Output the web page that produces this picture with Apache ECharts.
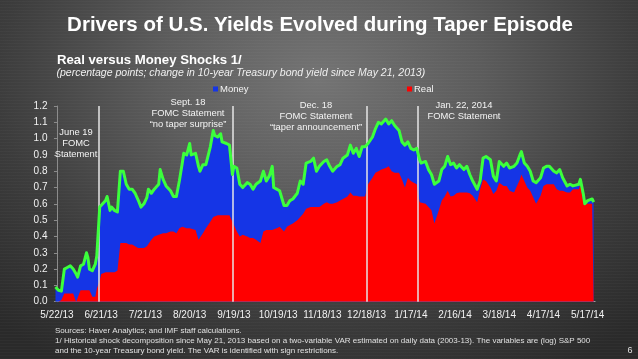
<!DOCTYPE html>
<html><head><meta charset="utf-8">
<script src="https://cdn.jsdelivr.net/npm/echarts@6/dist/echarts.min.js"></script>
<style>
html,body{margin:0;padding:0;width:638px;height:359px;overflow:hidden;background:#2a2a2a;}
#bg{position:absolute;left:0;top:0;width:638px;height:359px;
background:
 repeating-linear-gradient(0deg, rgba(255,255,255,0.025) 0px, rgba(255,255,255,0.025) 1px, rgba(0,0,0,0) 1px, rgba(0,0,0,0) 3px),
 radial-gradient(ellipse 72% 95% at 50% 22%, #747474 0%, #5c5c5c 35%, #3c3c3c 70%, #2a2a2a 100%);}
#chart{position:absolute;left:0;top:0;width:638px;height:359px;}
</style></head><body><div id="bg"></div><div id="chart"></div>
<script>
// days since 5/22/2013
const days = [-1,1,3,5,7,9,11,13,14,16,
18,20,21,22,24,26,27,29,30,33,
34,36,37,39,41,43,45,47,49,51,
53,55,57,59,61,62,64,66,69,70,
72,74,77,79,81,83,85,86,88,90,
91,94,96,97,99,101,104,106,107,109,
111,112,115,117,118,119,120,122,124,126,
129,131,133,135,138,140,142,144,146,147,
149,151,154,156,158,160,163,165,167,169,
172,174,176,178,181,183,185,187,190,192,
194,197,199,201,203,205,207,209,211,214,
216,218,220,223,225,227,229,232,234,236,
238,240,242,244,246,247,250,252,254,256,
259,261,263,265,267,269,271,273,276,278,
280,282,285,287,289,291,294,296,298,300,
303,305,307,310,312,314,315,317,319,321,
323,325,328,330,332,334,337,339,341,343,
346,348,350,354,355,357,358,360,363,364];

const totalValues = [0.09,0.07,0.065,0.20,0.21,0.22,0.20,0.17,0.15,0.22,
0.23,0.30,0.27,0.20,0.19,0.23,0.28,0.58,0.59,0.62,
0.645,0.56,0.58,0.56,0.55,0.80,0.80,0.72,0.69,0.69,
0.665,0.625,0.58,0.60,0.64,0.69,0.665,0.69,0.72,0.81,
0.75,0.71,0.68,0.645,0.645,0.74,0.85,0.91,0.90,0.97,
0.90,0.91,0.83,0.80,0.84,0.84,0.95,1.05,1.02,1.01,
1.03,0.98,0.97,0.96,0.95,0.78,0.83,0.82,0.72,0.70,
0.73,0.72,0.69,0.72,0.74,0.80,0.74,0.77,0.83,0.70,
0.69,0.68,0.59,0.59,0.62,0.63,0.665,0.74,0.72,0.85,
0.86,0.88,0.80,0.83,0.86,0.87,0.83,0.80,0.83,0.84,
0.88,0.90,0.96,0.91,0.94,0.89,0.95,0.95,0.97,1.01,
1.06,1.10,1.09,1.12,1.09,1.11,1.08,1.05,0.98,0.96,
0.98,0.94,0.93,0.94,0.87,0.85,0.86,0.81,0.78,0.72,
0.74,0.81,0.83,0.89,0.84,0.85,0.82,0.84,0.81,0.83,
0.78,0.74,0.69,0.74,0.88,0.89,0.87,0.77,0.74,0.86,
0.83,0.85,0.82,0.83,0.85,0.90,0.92,0.85,0.83,0.80,
0.74,0.73,0.76,0.82,0.83,0.83,0.80,0.79,0.81,0.76,
0.71,0.72,0.71,0.72,0.75,0.66,0.60,0.62,0.63,0.61];

const realValues = [0.00,0.00,0.01,0.05,0.05,0.05,0.05,0.00,0.00,0.07,
0.07,0.07,0.07,0.07,0.03,0.03,0.08,0.13,0.17,0.18,
0.18,0.18,0.18,0.18,0.19,0.36,0.36,0.36,0.35,0.35,
0.34,0.33,0.33,0.33,0.34,0.35,0.38,0.40,0.41,0.42,
0.42,0.42,0.43,0.43,0.42,0.45,0.46,0.46,0.45,0.45,
0.45,0.44,0.38,0.38,0.42,0.45,0.49,0.52,0.53,0.53,
0.53,0.53,0.53,0.53,0.53,0.49,0.47,0.43,0.40,0.41,
0.40,0.39,0.39,0.38,0.36,0.43,0.44,0.44,0.44,0.44,
0.45,0.46,0.43,0.46,0.47,0.48,0.50,0.52,0.54,0.57,
0.58,0.58,0.58,0.58,0.60,0.61,0.60,0.60,0.61,0.62,
0.63,0.645,0.67,0.65,0.65,0.645,0.645,0.645,0.72,0.76,
0.79,0.80,0.81,0.82,0.83,0.80,0.79,0.79,0.75,0.70,
0.76,0.74,0.73,0.72,0.61,0.61,0.60,0.58,0.56,0.48,
0.56,0.62,0.645,0.68,0.645,0.65,0.665,0.67,0.67,0.67,
0.665,0.65,0.61,0.69,0.75,0.74,0.70,0.66,0.68,0.73,
0.71,0.71,0.68,0.67,0.71,0.75,0.78,0.74,0.70,0.68,
0.64,0.60,0.65,0.71,0.72,0.72,0.72,0.69,0.68,0.68,
0.67,0.67,0.69,0.69,0.72,0.61,0.60,0.60,0.60,0.60];

const moneyValues = [0.09,0.07,0.055,0.15,0.16,0.17,0.15,0.17,0.15,0.15,
0.16,0.23,0.20,0.13,0.16,0.20,0.20,0.45,0.42,0.44,
0.465,0.38,0.40,0.38,0.36,0.44,0.44,0.36,0.34,0.34,
0.325,0.295,0.25,0.27,0.30,0.34,0.285,0.29,0.31,0.39,
0.33,0.29,0.25,0.215,0.225,0.29,0.39,0.45,0.45,0.52,
0.45,0.47,0.45,0.42,0.42,0.39,0.46,0.53,0.49,0.48,
0.50,0.45,0.44,0.43,0.42,0.29,0.36,0.39,0.32,0.29,
0.33,0.33,0.30,0.34,0.38,0.37,0.30,0.33,0.39,0.26,
0.24,0.22,0.16,0.13,0.15,0.15,0.165,0.22,0.18,0.28,
0.28,0.30,0.22,0.25,0.26,0.26,0.23,0.20,0.22,0.22,
0.25,0.255,0.29,0.26,0.29,0.245,0.305,0.305,0.25,0.25,
0.27,0.30,0.28,0.30,0.26,0.31,0.29,0.26,0.23,0.26,
0.22,0.20,0.20,0.22,0.26,0.24,0.26,0.23,0.22,0.24,
0.18,0.19,0.185,0.21,0.195,0.20,0.155,0.17,0.14,0.16,
0.115,0.09,0.08,0.05,0.13,0.15,0.17,0.11,0.06,0.13,
0.12,0.14,0.14,0.16,0.14,0.15,0.14,0.11,0.13,0.12,
0.10,0.13,0.11,0.11,0.11,0.11,0.08,0.10,0.13,0.08,
0.04,0.05,0.02,0.03,0.03,0.05,0.00,0.02,0.03,0.01];

const tickDays = [0,30,60,90,120,150,180,210,240,270,300,330,360];
const tickLabels = ['5/22/13','6/21/13','7/21/13','8/20/13','9/19/13','10/19/13','11/18/13','12/18/13','1/17/14','2/16/14','3/18/14','4/17/14','5/17/14'];
const eventDays = [28,119,210,245];

const FONT = '"Liberation Sans", Arial, Helvetica, sans-serif';

const chart = echarts.init(document.getElementById('chart'), null, {renderer:'canvas'});

function txt(text, x, y, font, opts) {
  return Object.assign({type:'text', x:x, y:y, silent:true, z:100,
    style: Object.assign({text:text, fill:'#f4f4f4', font:font, textAlign:'left', textVerticalAlign:'middle'}, (opts||{}))});
}
// Money band sits on top of Real: its upper edge is Real + Money (stacking done here)
const moneyTop = days.map((d,i)=>[d, realValues[i] + moneyValues[i]]);

const option = {
  animation:false,
  backgroundColor:'transparent',
  textStyle:{fontFamily:FONT},
  legend:[
    {data:['Money'], left:213, top:84, padding:0, itemWidth:5, itemHeight:5, icon:'rect', selectedMode:false,
     textStyle:{color:'#f4f4f4', fontSize:9.5, fontFamily:FONT, padding:[0,0,0,-3]}},
    {data:['Real'], left:407, top:84, padding:0, itemWidth:5, itemHeight:5, icon:'rect', selectedMode:false,
     textStyle:{color:'#f4f4f4', fontSize:9.5, fontFamily:FONT, padding:[0,0,0,-3]}}
  ],
  grid:{left:55.5, top:106, width:539.6, height:195.7, outerBoundsMode:'none', containLabel:false},
  xAxis:{type:'value', min:-1, max:365,
    axisLine:{show:true, lineStyle:{color:'#a0a0a0', width:1}},
    axisTick:{show:false}, splitLine:{show:false},
    axisLabel:{customValues:tickDays, color:'#f2f2f2', fontSize:10, margin:9, fontFamily:FONT, hideOverlap:false,
      formatter:function(v){ const i = tickDays.indexOf(Math.round(v)); return i>=0 ? tickLabels[i] : ''; }}
  },
  yAxis:{type:'value', min:0, max:1.2, interval:0.1,
    axisLine:{show:true, lineStyle:{color:'#8c8c8c', width:1}},
    axisTick:{show:true, length:3, lineStyle:{color:'#8c8c8c'}},
    splitLine:{show:false},
    axisLabel:{color:'#f2f2f2', fontSize:10, margin:8, fontFamily:FONT, formatter:function(v){return v.toFixed(1);}}
  },
  series:[
    {name:'Money', type:'line', symbol:'none', data:moneyTop,
     itemStyle:{color:'#1535e6'}, lineStyle:{width:0}, areaStyle:{color:'#1535e6', opacity:1, origin:'start'}, z:2},
    {name:'Real', type:'line', symbol:'none', data:days.map((d,i)=>[d, realValues[i]]),
     itemStyle:{color:'#ff0000'}, lineStyle:{width:0}, areaStyle:{color:'#ff0000', opacity:1, origin:'start'}, z:3},
    {name:'Total', type:'line', symbol:'none', data:days.map((d,i)=>[d, totalValues[i]]),
     lineStyle:{color:'#3cff3c', width:3, join:'round'}, itemStyle:{color:'#3cff3c'}, z:5,
     markLine:{silent:true, symbol:['none','none'], label:{show:false},
       lineStyle:{color:'#e6e6e6', width:1.5, type:'solid'},
       data: eventDays.map(d => ({xAxis:d}))}
    }
  ],
  graphic:[
    txt('Drivers of U.S. Yields Evolved during Taper Episode', 320, 25, 'bold 20.5px ' + FONT,
        {textAlign:'center', fill:'#ffffff', shadowColor:'rgba(0,0,0,0.75)', shadowBlur:3, shadowOffsetX:1, shadowOffsetY:1.5}),
    txt('Real versus Money Shocks 1/', 57, 60, 'bold 13.2px ' + FONT, {fill:'#ffffff'}),
    txt('(percentage points; change in 10-year Treasury bond yield since May 21, 2013)', 56.5, 73.5, 'italic 10.5px ' + FONT, {fill:'#f0f0f0'}),
    txt('June 19\nFOMC\nStatement', 76, 143, '9.4px ' + FONT, {textAlign:'center', lineHeight:11}),
    txt('Sept. 18\nFOMC Statement\n\u201cno taper surprise\u201d', 188, 113.5, '9.4px ' + FONT, {textAlign:'center', lineHeight:11}),
    txt('Dec. 18\nFOMC Statement\n\u201ctaper announcement\u201d', 316, 116, '9.4px ' + FONT, {textAlign:'center', lineHeight:11}),
    txt('Jan. 22, 2014\nFOMC Statement', 464, 111, '9.4px ' + FONT, {textAlign:'center', lineHeight:11}),
    txt('Sources: Haver Analytics; and IMF staff calculations.', 55, 331, '8px ' + FONT, {fill:'#e0e0e0'}),
    txt('1/ Historical shock decomposition since May 21, 2013 based on a two-variable VAR estimated on daily data (2003-13). The variables are (log) S&P 500', 55, 341, '8px ' + FONT, {fill:'#e0e0e0'}),
    txt('and the 10-year Treasury bond yield. The VAR is identified with sign restrictions.', 55, 351, '8px ' + FONT, {fill:'#e0e0e0'}),
    txt('6', 630, 351, '9px ' + FONT, {textAlign:'center', fill:'#e0e0e0'})
  ]
};
chart.setOption(option);
</script>
</body></html>
